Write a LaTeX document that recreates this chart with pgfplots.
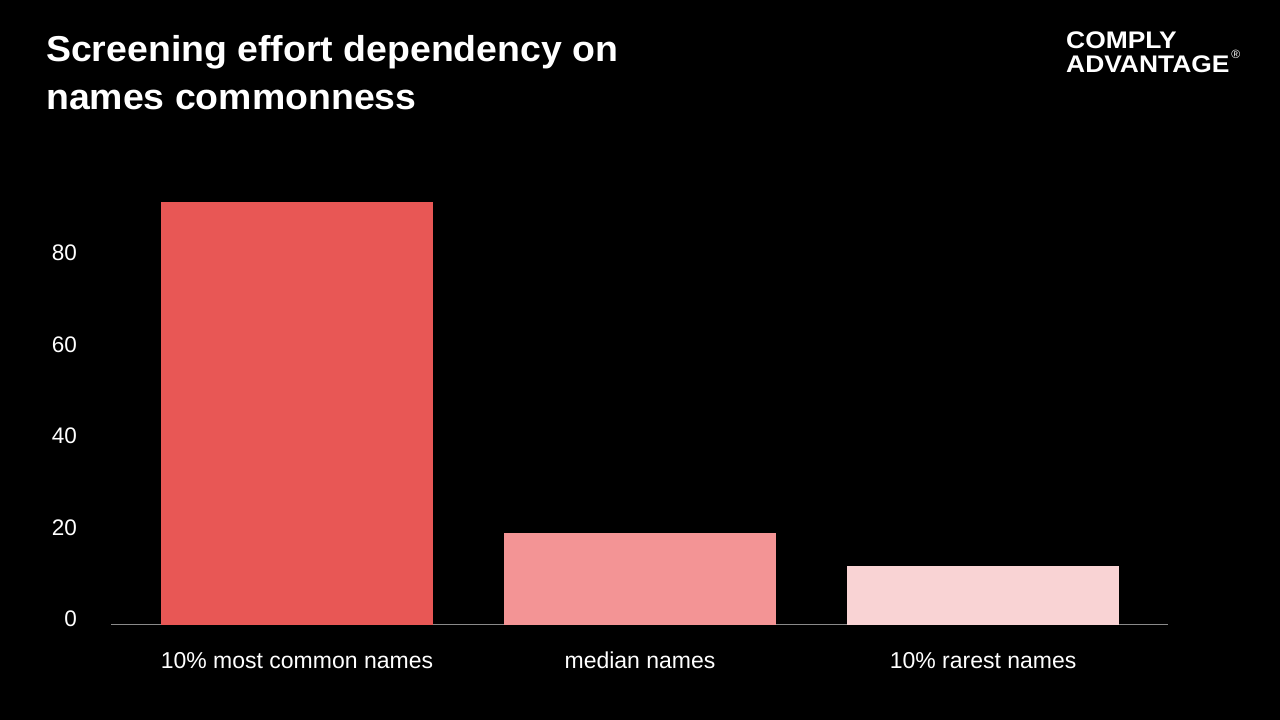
\documentclass[border=0pt]{standalone}
\usepackage{pgfplots}
\pgfplotsset{compat=1.18}
\usepackage{fontspec}
\setmainfont{Liberation Sans}
\newfontfamily\titlefont[FakeStretch=1.04]{Liberation Sans Bold}
\newfontfamily\logofont[FakeStretch=1.1]{Liberation Sans Bold}
\definecolor{barA}{HTML}{E85755}
\definecolor{barB}{HTML}{F39495}
\definecolor{barC}{HTML}{F9D3D4}
\definecolor{axisgray}{HTML}{8A8A8A}
\begin{document}
\begin{tikzpicture}[x=1pt,y=1pt]
\fill[black] (0,0) rectangle (1280,720);
\node[anchor=base west, inner sep=0pt, text=white, font=\fontsize{36}{40}\selectfont\titlefont] at (46,658) {Screening effort dependency on};
\node[anchor=base west, inner sep=0pt, text=white, font=\fontsize{36}{40}\selectfont\titlefont] at (46,610) {names commonness};
\node[anchor=north west, inner sep=0pt, align=left, text=white, font=\fontsize{24}{20.5}\selectfont\logofont] at (1066,688) {COMPLY\\ADVANTAGE\rlap{\raisebox{14pt}{\fontsize{12}{12}\selectfont\normalfont\,®}}};
\begin{axis}[
  at={(111pt,95pt)}, anchor=south west,
  scale only axis, width=1057pt, height=457.5pt,
  xmin=-0.542, xmax=2.539, ymin=0, ymax=100,
  axis x line*=bottom, axis y line*=left,
  x axis line style={axisgray, line width=1pt},
  y axis line style={draw=none},
  major tick length=0pt,
  ybar, bar width=272pt, bar shift=0pt,
  xtick={0,1,2},
  xticklabels={10\% most common names, median names, 10\% rarest names},
  ytick={0,20,40,60,80},
  xticklabel style={text=white, anchor=base, inner sep=0pt, yshift=-44pt, font=\fontsize{23}{27}\selectfont},
  yticklabel style={text=white, anchor=base east, inner sep=0pt, xshift=-34pt, yshift=-2pt, font=\fontsize{22.5}{27}\selectfont},
  /pgf/number format/assume math mode=true,
]
\addplot[fill=barA, draw=none] coordinates {(0,92.5)};
\addplot[fill=barB, draw=none] coordinates {(1,20.1)};
\addplot[fill=barC, draw=none] coordinates {(2,12.9)};
\end{axis}
\end{tikzpicture}
\end{document}
